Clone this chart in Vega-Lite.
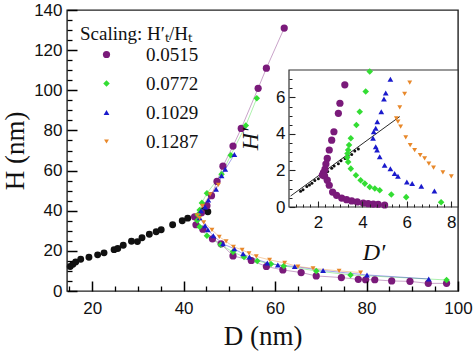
{
  "$schema": "https://vega.github.io/schema/vega-lite/v6.json",
  "width": 391,
  "height": 281,
  "autosize": "none",
  "padding": {"left": 67, "top": 10, "right": 16, "bottom": 62},
  "background": "white",
  "config": {
    "view": {"stroke": "#222", "strokeWidth": 1.4},
    "axis": {"grid": false, "ticks": true, "tickOpacity": 1, "domainColor": "#222", "tickColor": "#222", "labelColor": "#111", "titleColor": "#111", "labelFont": "Liberation Sans", "titleFont": "Liberation Serif", "titleFontWeight": "normal", "labelOverlap": false, "labelFlush": false}
  },
  "datasets": {
    "main": [
      {"s": "0.0515", "k": 1, "D": 62.0, "H": 131},
      {"s": "0.0515", "k": 2, "D": 58.1, "H": 111},
      {"s": "0.0515", "k": 3, "D": 56.3, "H": 101},
      {"s": "0.0515", "k": 4, "D": 52.6, "H": 81},
      {"s": "0.0515", "k": 5, "D": 50.8, "H": 72.2},
      {"s": "0.0515", "k": 6, "D": 48.6, "H": 62.2},
      {"s": "0.0515", "k": 7, "D": 47.3, "H": 54.6},
      {"s": "0.0515", "k": 8, "D": 46.1, "H": 47.5},
      {"s": "0.0515", "k": 9, "D": 45.1, "H": 42.5},
      {"s": "0.0515", "k": 10, "D": 43.9, "H": 39},
      {"s": "0.0515", "k": 11, "D": 42.4, "H": 37},
      {"s": "0.0515", "k": 12, "D": 42.7, "H": 33},
      {"s": "0.0515", "k": 13, "D": 44.2, "H": 30.8},
      {"s": "0.0515", "k": 14, "D": 46.3, "H": 26},
      {"s": "0.0515", "k": 15, "D": 48.2, "H": 23.5},
      {"s": "0.0515", "k": 16, "D": 50.8, "H": 17.5},
      {"s": "0.0515", "k": 17, "D": 54.8, "H": 15.2},
      {"s": "0.0515", "k": 18, "D": 58.1, "H": 12.2},
      {"s": "0.0515", "k": 19, "D": 61.7, "H": 10.5},
      {"s": "0.0515", "k": 20, "D": 65.7, "H": 9.2},
      {"s": "0.0515", "k": 21, "D": 69.0, "H": 7.5},
      {"s": "0.0515", "k": 22, "D": 74.5, "H": 6.7},
      {"s": "0.0515", "k": 23, "D": 78.2, "H": 5.8},
      {"s": "0.0515", "k": 24, "D": 79.8, "H": 5.6},
      {"s": "0.0515", "k": 25, "D": 81.8, "H": 5.6},
      {"s": "0.0515", "k": 26, "D": 85.5, "H": 5.0},
      {"s": "0.0515", "k": 27, "D": 89.5, "H": 4.8},
      {"s": "0.0515", "k": 28, "D": 93.5, "H": 3.8},
      {"s": "0.0515", "k": 29, "D": 97.5, "H": 3.8},
      {"s": "0.0772", "k": 1, "D": 56.0, "H": 96},
      {"s": "0.0772", "k": 2, "D": 53.6, "H": 82.5},
      {"s": "0.0772", "k": 3, "D": 50.3, "H": 67.6},
      {"s": "0.0772", "k": 4, "D": 48.3, "H": 58.2},
      {"s": "0.0772", "k": 5, "D": 45.1, "H": 48.7},
      {"s": "0.0772", "k": 6, "D": 44.0, "H": 43.9},
      {"s": "0.0772", "k": 7, "D": 43.5, "H": 40.4},
      {"s": "0.0772", "k": 8, "D": 43.1, "H": 38.0},
      {"s": "0.0772", "k": 9, "D": 43.0, "H": 35.1},
      {"s": "0.0772", "k": 10, "D": 43.5, "H": 32},
      {"s": "0.0772", "k": 11, "D": 45.1, "H": 27.5},
      {"s": "0.0772", "k": 12, "D": 48.1, "H": 23},
      {"s": "0.0772", "k": 13, "D": 50.8, "H": 19.5},
      {"s": "0.0772", "k": 14, "D": 53.2, "H": 17},
      {"s": "0.0772", "k": 15, "D": 56.1, "H": 15},
      {"s": "0.0772", "k": 16, "D": 59.1, "H": 13.5},
      {"s": "0.0772", "k": 17, "D": 61.9, "H": 12.5},
      {"s": "0.0772", "k": 18, "D": 69.0, "H": 10},
      {"s": "0.0772", "k": 19, "D": 76.5, "H": 8},
      {"s": "0.0772", "k": 20, "D": 97.5, "H": 5.5},
      {"s": "0.1029", "k": 1, "D": 51.1, "H": 68},
      {"s": "0.1029", "k": 2, "D": 49.1, "H": 60.6},
      {"s": "0.1029", "k": 3, "D": 48.3, "H": 57.4},
      {"s": "0.1029", "k": 4, "D": 47.1, "H": 50.7},
      {"s": "0.1029", "k": 5, "D": 45.4, "H": 45.4},
      {"s": "0.1029", "k": 6, "D": 44.7, "H": 41.9},
      {"s": "0.1029", "k": 7, "D": 43.8, "H": 40},
      {"s": "0.1029", "k": 8, "D": 43.5, "H": 36.5},
      {"s": "0.1029", "k": 9, "D": 44.7, "H": 32.5},
      {"s": "0.1029", "k": 10, "D": 45.3, "H": 30.5},
      {"s": "0.1029", "k": 11, "D": 46.5, "H": 27.5},
      {"s": "0.1029", "k": 12, "D": 48.6, "H": 23.5},
      {"s": "0.1029", "k": 13, "D": 51.1, "H": 21},
      {"s": "0.1029", "k": 14, "D": 53.0, "H": 18.5},
      {"s": "0.1029", "k": 15, "D": 54.4, "H": 17},
      {"s": "0.1029", "k": 16, "D": 58.3, "H": 14},
      {"s": "0.1029", "k": 17, "D": 60.6, "H": 13},
      {"s": "0.1029", "k": 18, "D": 64.3, "H": 12.2},
      {"s": "0.1029", "k": 19, "D": 70.5, "H": 10.2},
      {"s": "0.1029", "k": 20, "D": 80.1, "H": 8},
      {"s": "0.1029", "k": 21, "D": 93.6, "H": 6},
      {"s": "0.1287", "k": 1, "D": 47.6, "H": 52.9},
      {"s": "0.1287", "k": 2, "D": 45.8, "H": 48.1},
      {"s": "0.1287", "k": 3, "D": 44.1, "H": 42.4},
      {"s": "0.1287", "k": 4, "D": 43.0, "H": 37.7},
      {"s": "0.1287", "k": 5, "D": 43.5, "H": 36.3},
      {"s": "0.1287", "k": 6, "D": 44.4, "H": 34.2},
      {"s": "0.1287", "k": 7, "D": 46.2, "H": 30.5},
      {"s": "0.1287", "k": 8, "D": 47.8, "H": 27},
      {"s": "0.1287", "k": 9, "D": 49.3, "H": 24.7},
      {"s": "0.1287", "k": 10, "D": 50.9, "H": 22},
      {"s": "0.1287", "k": 11, "D": 52.8, "H": 20.5},
      {"s": "0.1287", "k": 12, "D": 54.3, "H": 18.8},
      {"s": "0.1287", "k": 13, "D": 55.9, "H": 17.2},
      {"s": "0.1287", "k": 14, "D": 58.8, "H": 15.5},
      {"s": "0.1287", "k": 15, "D": 62.1, "H": 14},
      {"s": "0.1287", "k": 16, "D": 65.0, "H": 12.2},
      {"s": "0.1287", "k": 17, "D": 68.3, "H": 11.3},
      {"s": "0.1287", "k": 18, "D": 74.0, "H": 10},
      {"s": "0.1287", "k": 19, "D": 78.7, "H": 9.2}
    ],
    "black": [
      {"D": 15.2, "H": 12.2}, {"D": 15.8, "H": 13.3}, {"D": 16.4, "H": 14.5}, {"D": 17.5, "H": 15.8},
      {"D": 19.3, "H": 16.8}, {"D": 21.2, "H": 18.0}, {"D": 22.6, "H": 19.0}, {"D": 24.8, "H": 20.6},
      {"D": 25.6, "H": 21.2}, {"D": 26.8, "H": 22.8}, {"D": 28.6, "H": 24.8}, {"D": 29.9, "H": 24.6},
      {"D": 30.9, "H": 26.5}, {"D": 32.5, "H": 28.3}, {"D": 34.0, "H": 29.5}, {"D": 35.1, "H": 30.5},
      {"D": 37.6, "H": 33.0}, {"D": 39.7, "H": 35.0}, {"D": 40.9, "H": 36.3}, {"D": 44.5, "H": 40.3},
      {"D": 45.3, "H": 39.5}
    ],
    "inset": [
      {"s": "0.0515", "Dp": 3.21, "Hp": 6.69}, {"s": "0.0515", "Dp": 2.99, "Hp": 5.68}, {"s": "0.0515", "Dp": 2.92, "Hp": 5.13},
      {"s": "0.0515", "Dp": 2.72, "Hp": 4.12}, {"s": "0.0515", "Dp": 2.62, "Hp": 3.66}, {"s": "0.0515", "Dp": 2.51, "Hp": 3.12},
      {"s": "0.0515", "Dp": 2.42, "Hp": 2.66}, {"s": "0.0515", "Dp": 2.36, "Hp": 2.35}, {"s": "0.0515", "Dp": 2.32, "Hp": 2.07},
      {"s": "0.0515", "Dp": 2.25, "Hp": 1.88}, {"s": "0.0515", "Dp": 2.2, "Hp": 1.75}, {"s": "0.0515", "Dp": 2.3, "Hp": 1.7},
      {"s": "0.0515", "Dp": 2.42, "Hp": 1.47}, {"s": "0.0515", "Dp": 2.51, "Hp": 1.19}, {"s": "0.0515", "Dp": 2.66, "Hp": 0.82},
      {"s": "0.0515", "Dp": 2.84, "Hp": 0.64}, {"s": "0.0515", "Dp": 3.07, "Hp": 0.49}, {"s": "0.0515", "Dp": 3.29, "Hp": 0.40},
      {"s": "0.0515", "Dp": 3.52, "Hp": 0.33}, {"s": "0.0515", "Dp": 3.77, "Hp": 0.28}, {"s": "0.0515", "Dp": 4.04, "Hp": 0.22},
      {"s": "0.0515", "Dp": 4.26, "Hp": 0.18}, {"s": "0.0515", "Dp": 4.49, "Hp": 0.16}, {"s": "0.0515", "Dp": 4.71, "Hp": 0.15},
      {"s": "0.0515", "Dp": 5.0, "Hp": 0.11},
      {"s": "0.0772", "Dp": 4.33, "Hp": 7.42}, {"s": "0.0772", "Dp": 4.15, "Hp": 6.32}, {"s": "0.0772", "Dp": 3.88, "Hp": 5.22},
      {"s": "0.0772", "Dp": 3.73, "Hp": 4.49}, {"s": "0.0772", "Dp": 3.48, "Hp": 3.76}, {"s": "0.0772", "Dp": 3.40, "Hp": 3.39},
      {"s": "0.0772", "Dp": 3.36, "Hp": 3.12}, {"s": "0.0772", "Dp": 3.33, "Hp": 2.93}, {"s": "0.0772", "Dp": 3.32, "Hp": 2.71},
      {"s": "0.0772", "Dp": 3.36, "Hp": 2.47}, {"s": "0.0772", "Dp": 3.48, "Hp": 2.10}, {"s": "0.0772", "Dp": 3.71, "Hp": 1.74},
      {"s": "0.0772", "Dp": 3.92, "Hp": 1.47}, {"s": "0.0772", "Dp": 4.11, "Hp": 1.28}, {"s": "0.0772", "Dp": 4.33, "Hp": 1.10},
      {"s": "0.0772", "Dp": 4.56, "Hp": 1.01}, {"s": "0.0772", "Dp": 4.78, "Hp": 0.92}, {"s": "0.0772", "Dp": 5.30, "Hp": 0.69},
      {"s": "0.0772", "Dp": 5.97, "Hp": 0.54}, {"s": "0.0772", "Dp": 7.54, "Hp": 0.26},
      {"s": "0.1029", "Dp": 5.26, "Hp": 7.0}, {"s": "0.1029", "Dp": 5.05, "Hp": 6.24}, {"s": "0.1029", "Dp": 4.97, "Hp": 5.91},
      {"s": "0.1029", "Dp": 4.85, "Hp": 5.22}, {"s": "0.1029", "Dp": 4.67, "Hp": 4.67}, {"s": "0.1029", "Dp": 4.60, "Hp": 4.31},
      {"s": "0.1029", "Dp": 4.51, "Hp": 4.12}, {"s": "0.1029", "Dp": 4.48, "Hp": 3.76}, {"s": "0.1029", "Dp": 4.60, "Hp": 3.30},
      {"s": "0.1029", "Dp": 4.66, "Hp": 3.12}, {"s": "0.1029", "Dp": 4.78, "Hp": 2.75}, {"s": "0.1029", "Dp": 5.00, "Hp": 2.29},
      {"s": "0.1029", "Dp": 5.26, "Hp": 2.10}, {"s": "0.1029", "Dp": 5.45, "Hp": 1.83}, {"s": "0.1029", "Dp": 5.60, "Hp": 1.68},
      {"s": "0.1029", "Dp": 6.00, "Hp": 1.37}, {"s": "0.1029", "Dp": 6.24, "Hp": 1.28}, {"s": "0.1029", "Dp": 6.65, "Hp": 1.13},
      {"s": "0.1029", "Dp": 7.24, "Hp": 0.88},
      {"s": "0.1287", "Dp": 6.13, "Hp": 6.81}, {"s": "0.1287", "Dp": 5.90, "Hp": 6.19}, {"s": "0.1287", "Dp": 5.68, "Hp": 5.46},
      {"s": "0.1287", "Dp": 5.53, "Hp": 4.85}, {"s": "0.1287", "Dp": 5.60, "Hp": 4.67}, {"s": "0.1287", "Dp": 5.72, "Hp": 4.40},
      {"s": "0.1287", "Dp": 5.95, "Hp": 3.81}, {"s": "0.1287", "Dp": 6.15, "Hp": 3.39}, {"s": "0.1287", "Dp": 6.35, "Hp": 3.12},
      {"s": "0.1287", "Dp": 6.60, "Hp": 2.84}, {"s": "0.1287", "Dp": 6.80, "Hp": 2.66}, {"s": "0.1287", "Dp": 6.99, "Hp": 2.38},
      {"s": "0.1287", "Dp": 7.20, "Hp": 2.16}, {"s": "0.1287", "Dp": 7.62, "Hp": 1.89}, {"s": "0.1287", "Dp": 8.00, "Hp": 1.68}
    ],
    "insetBlack": [
      {"Dp": 1.22, "Hp": 0.86}, {"Dp": 1.33, "Hp": 0.95}, {"Dp": 1.5, "Hp": 1.12}, {"Dp": 1.62, "Hp": 1.2},
      {"Dp": 1.73, "Hp": 1.3}, {"Dp": 1.86, "Hp": 1.45}, {"Dp": 2.02, "Hp": 1.55}, {"Dp": 2.14, "Hp": 1.72},
      {"Dp": 2.31, "Hp": 1.84}, {"Dp": 2.44, "Hp": 1.95}, {"Dp": 2.62, "Hp": 2.12}, {"Dp": 2.73, "Hp": 2.24},
      {"Dp": 2.92, "Hp": 2.37}, {"Dp": 3.04, "Hp": 2.53}, {"Dp": 3.22, "Hp": 2.65}, {"Dp": 3.36, "Hp": 2.8},
      {"Dp": 3.52, "Hp": 2.88}, {"Dp": 3.66, "Hp": 3.06}, {"Dp": 3.82, "Hp": 3.18}
    ],
    "insetLine": [
      {"Dp": 0.77, "Hp": 0.6}, {"Dp": 5.68, "Hp": 4.95}
    ]
  },
  "layer": [
    {
      "resolve": {"axis": {"x": "independent", "y": "independent"}},
      "layer": [
        {
          "data": {"values": [{}]},
          "mark": {"type": "rect", "fill": "white", "stroke": "#333", "strokeWidth": 1.2},
          "encoding": {
            "x": {"datum": 0.7, "type": "quantitative",
              "scale": {"domain": [0.7, 8.3], "nice": false, "zero": false, "range": [222, 391]}, "axis": null},
            "x2": {"datum": 8.3},
            "y": {"datum": 0, "type": "quantitative",
              "scale": {"domain": [0, 7.5], "nice": false, "range": [197, 60]}, "axis": null},
            "y2": {"datum": 7.5}
          }
        },
        {
          "data": {"name": "insetLine"},
          "mark": {"type": "line", "color": "#111", "strokeWidth": 0.9},
          "encoding": {
            "x": {"field": "Dp", "type": "quantitative",
              "axis": {
                "orient": "bottom", "offset": -90, "zindex": 1,
                "values": [2, 4, 6, 8],
                "ticks": true, "tickSize": 6, "tickWidth": 1.1, "tickColor": "#222", "domain": false,
                "labelFontSize": 17, "labelPadding": 7,
                "title": "D′", "titleFontSize": 24, "titleFontStyle": "italic", "titlePadding": 10
              }
            },
            "y": {"field": "Hp", "type": "quantitative",
              "axis": {
                "orient": "left", "offset": -228, "zindex": 1,
                "values": [0, 2, 4, 6],
                "ticks": true, "tickSize": 6, "tickWidth": 1.1, "tickColor": "#222", "domain": false,
                "labelFontSize": 17, "labelPadding": 4,
                "title": "H′", "titleFontSize": 24, "titleFontStyle": "italic", "titlePadding": 13
              }
            }
          }
        },
        {
          "data": {"name": "insetBlack"},
          "mark": {"type": "circle", "color": "#111", "size": 9, "opacity": 1},
          "encoding": {
            "x": {"field": "Dp", "type": "quantitative",
              "axis": {
                "orient": "bottom", "offset": -87, "zindex": 1,
                "values": [1, 1.3333, 1.6667, 2.3333, 2.6667, 3, 3.3333, 3.6667, 4.3333, 4.6667, 5, 5.3333, 5.6667, 6.3333, 6.6667, 7, 7.3333, 7.6667],
                "ticks": true, "tickSize": 3, "tickWidth": 1, "tickColor": "#222", "domain": false, "labels": false, "title": null
              }
            },
            "y": {"field": "Hp", "type": "quantitative",
              "axis": {
                "orient": "left", "offset": -225, "zindex": 1,
                "values": [0.5, 1, 1.5, 2.5, 3, 3.5, 4.5, 5, 5.5, 6.5, 7],
                "ticks": true, "tickSize": 3, "tickWidth": 1, "tickColor": "#222", "domain": false, "labels": false, "title": null
              }
            }
          }
        },
        {
          "data": {"name": "inset"},
          "mark": {"type": "point", "filled": true, "opacity": 1},
          "encoding": {
            "x": {"field": "Dp", "type": "quantitative", "axis": null},
            "y": {"field": "Hp", "type": "quantitative", "axis": null},
            "color": {"field": "s", "type": "nominal"},
            "shape": {"field": "s", "type": "nominal"},
            "size": {"field": "s", "type": "nominal"}
          }
        }
      ]
    },
    {
      "resolve": {"axis": {"x": "independent", "y": "independent"}},
      "layer": [
        {
          "data": {"name": "main"},
          "mark": {"type": "line", "strokeWidth": 0.9, "opacity": 0.45},
          "encoding": {
            "x": {"field": "D", "type": "quantitative",
              "scale": {"domain": [14.5, 100], "nice": false, "zero": false, "range": [0, 391]}, "axis": null},
            "y": {"field": "H", "type": "quantitative",
              "scale": {"domain": [0, 140], "nice": false, "range": [281, 0]}, "axis": null},
            "color": {"field": "s", "type": "nominal"},
            "order": {"field": "k", "type": "quantitative"}
          }
        },
        {
          "data": {"name": "black"},
          "mark": {"type": "circle", "color": "#111", "size": 48, "opacity": 1},
          "encoding": {
            "x": {"field": "D", "type": "quantitative",
              "axis": {
                "orient": "bottom", "offset": -5, "zindex": 1,
                "values": [15, 25, 30, 35, 45, 50, 55, 65, 70, 75, 85, 90, 95],
                "ticks": true, "tickSize": 5, "tickWidth": 1.3, "tickColor": "black", "domain": false, "labels": false, "title": null
              }
            },
            "y": {"field": "H", "type": "quantitative",
              "axis": {
                "orient": "left", "offset": -5, "zindex": 1,
                "values": [5, 10, 15, 25, 30, 35, 45, 50, 55, 65, 70, 75, 85, 90, 95, 105, 110, 115, 125, 130, 135],
                "ticks": true, "tickSize": 5, "tickWidth": 1.3, "tickColor": "black", "domain": false, "labels": false, "title": null
              }
            }
          }
        },
        {
          "data": {"name": "main"},
          "mark": {"type": "point", "filled": true, "opacity": 1},
          "encoding": {
            "x": {"field": "D", "type": "quantitative",
              "axis": {
                "orient": "bottom", "offset": -10, "zindex": 1,
                "values": [20, 40, 60, 80, 100],
                "ticks": true, "tickSize": 10, "tickWidth": 1.5, "tickColor": "black", "domain": false,
                "labelFontSize": 17, "labelPadding": 9,
                "title": "D (nm)", "titleFontSize": 27, "titlePadding": 7
              }
            },
            "y": {"field": "H", "type": "quantitative",
              "axis": {
                "orient": "left", "offset": -10, "zindex": 1,
                "values": [0, 20, 40, 60, 80, 100, 120, 140],
                "ticks": true, "tickSize": 10, "tickWidth": 1.5, "tickColor": "black", "domain": false,
                "labelFontSize": 17, "labelPadding": 5,
                "title": "H (nm)", "titleFontSize": 27, "titlePadding": 4
              }
            },
            "color": {"field": "s", "type": "nominal",
              "scale": {"domain": ["0.0515", "0.0772", "0.1029", "0.1287"], "range": ["#7a1a7a", "#33dd33", "#1a1acc", "#e8882a"]},
              "legend": {
                "title": "Scaling: H′ₜ/Hₜ", "orient": "none", "legendX": 13, "legendY": 15,
                "titleFont": "Liberation Serif", "titleFontSize": 19, "titleFontWeight": "normal", "titleColor": "#111", "titlePadding": 1,
                "labelFont": "Liberation Serif", "labelFontSize": 19, "labelColor": "#111", "labelOffset": 30,
                "symbolOffset": 17, "rowPadding": 9, "symbolStrokeWidth": 0, "symbolOpacity": 1
              }
            },
            "shape": {"field": "s", "type": "nominal",
              "scale": {"domain": ["0.0515", "0.0772", "0.1029", "0.1287"], "range": ["circle", "diamond", "triangle-up", "triangle-down"]}
            },
            "size": {"field": "s", "type": "nominal",
              "scale": {"domain": ["0.0515", "0.0772", "0.1029", "0.1287"], "range": [52, 24, 40, 40]}
            }
          }
        }
      ]
    }
  ],
  "resolve": {"scale": {"x": "independent", "y": "independent"}}
}
